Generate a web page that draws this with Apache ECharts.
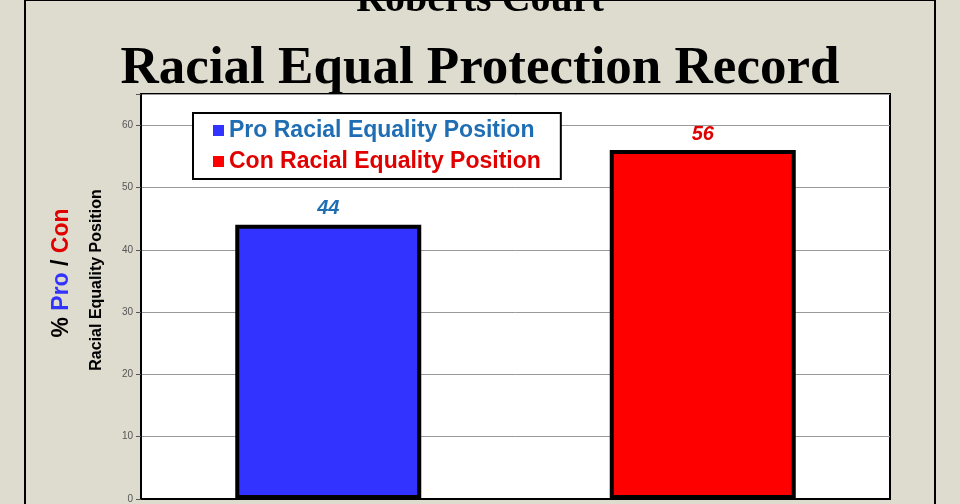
<!DOCTYPE html>
<html><head><meta charset="utf-8">
<script src="https://cdn.jsdelivr.net/npm/echarts@6/dist/echarts.min.js"></script>
<style>html,body{margin:0;padding:0;background:#dedbcf}#c{width:960px;height:504px}</style>
</head><body><div id="c"></div>
<script>
const categories = ["Pro", "Con"];
const seriesNames = ["Pro Racial Equality Position", "Con Racial Equality Position"];
const proValues = [44, "-"];
const conValues = ["-", 56];
const colors = ["#3333ff", "#ff0000"];
const labelColors = ["#1f6db3", "#e00000"];

var chart = echarts.init(document.getElementById("c"));
function mk(i, data) {
  return {
    name: seriesNames[i], type: "bar", data: data, barWidth: 186, barGap: "-100%",
    itemStyle: { color: colors[i], borderColor: "#000", borderWidth: 4 },
    label: { show: true, position: "top", distance: 6, color: labelColors[i],
      fontSize: 20, fontWeight: "bold", fontStyle: "italic", fontFamily: "Liberation Sans" }
  };
}
chart.setOption({
  backgroundColor: "#dedbcf",
  animation: false,
  title: [
    { text: "Roberts Court", left: "center", top: -24,
      textStyle: { fontFamily: "Liberation Serif", fontWeight: "bold", fontSize: 40, color: "#000" } },
    { text: "Racial Equal Protection Record", left: "center", top: 38,
      textStyle: { fontFamily: "Liberation Serif", fontWeight: "bold", fontSize: 53, color: "#000" } }
  ],
  legend: {
    orient: "vertical", left: 193, top: 113, itemWidth: 11, itemHeight: 11, itemGap: 8,
    padding: [6, 20, 6, 20], backgroundColor: "#fff", borderColor: "#000", borderWidth: 2,
    icon: "rect",
    itemStyle: { borderWidth: 0 },
    data: [
      { name: seriesNames[0], textStyle: { color: labelColors[0] } },
      { name: seriesNames[1], textStyle: { color: labelColors[1] } }
    ],
    textStyle: { fontSize: 23, fontWeight: "bold", fontFamily: "Liberation Sans" }
  },
  grid: { left: 141, right: 70, top: 94, bottom: 3, backgroundColor: "#fff", show: true,
    borderColor: "#000", borderWidth: 2 },
  xAxis: { type: "category", data: categories, axisLabel: { show: false }, axisTick: { show: false },
    axisLine: { lineStyle: { color: "#000", width: 2 } } },
  yAxis: { type: "value", min: 0, max: 65, interval: 10,
    axisLabel: { color: "#555", fontSize: 10, fontFamily: "Liberation Sans", margin: 8,
      formatter: function (v) { return v % 10 === 0 ? v : ""; } },
    axisTick: { show: true, length: 5, lineStyle: { color: "#555" } },
    axisLine: { show: true, lineStyle: { color: "#000", width: 2 } },
    splitLine: { lineStyle: { color: "#999" } } },
  graphic: [
    { type: "rect", shape: { x: 25, y: 0, width: 910, height: 520 }, silent: true, z: -1,
      style: { fill: "none", stroke: "#000", lineWidth: 2 } },
    { type: "text", x: 62, y: 273, rotation: Math.PI / 2,
      style: { text: "{k|% }{p|Pro}{k| / }{c|Con}", align: "center", verticalAlign: "middle",
        rich: {
          k: { fontSize: 23, fontWeight: "bold", fill: "#000", fontFamily: "Liberation Sans" },
          p: { fontSize: 23, fontWeight: "bold", fill: "#3333ff", fontFamily: "Liberation Sans" },
          c: { fontSize: 23, fontWeight: "bold", fill: "#e00000", fontFamily: "Liberation Sans" }
        } } },
    { type: "text", x: 97, y: 280, rotation: Math.PI / 2,
      style: { text: "Racial Equality Position", align: "center", verticalAlign: "middle",
        fontSize: 16, fontWeight: "bold", fill: "#000", fontFamily: "Liberation Sans" } }
  ],
  series: [mk(0, proValues), mk(1, conValues)]
});
</script></body></html>
